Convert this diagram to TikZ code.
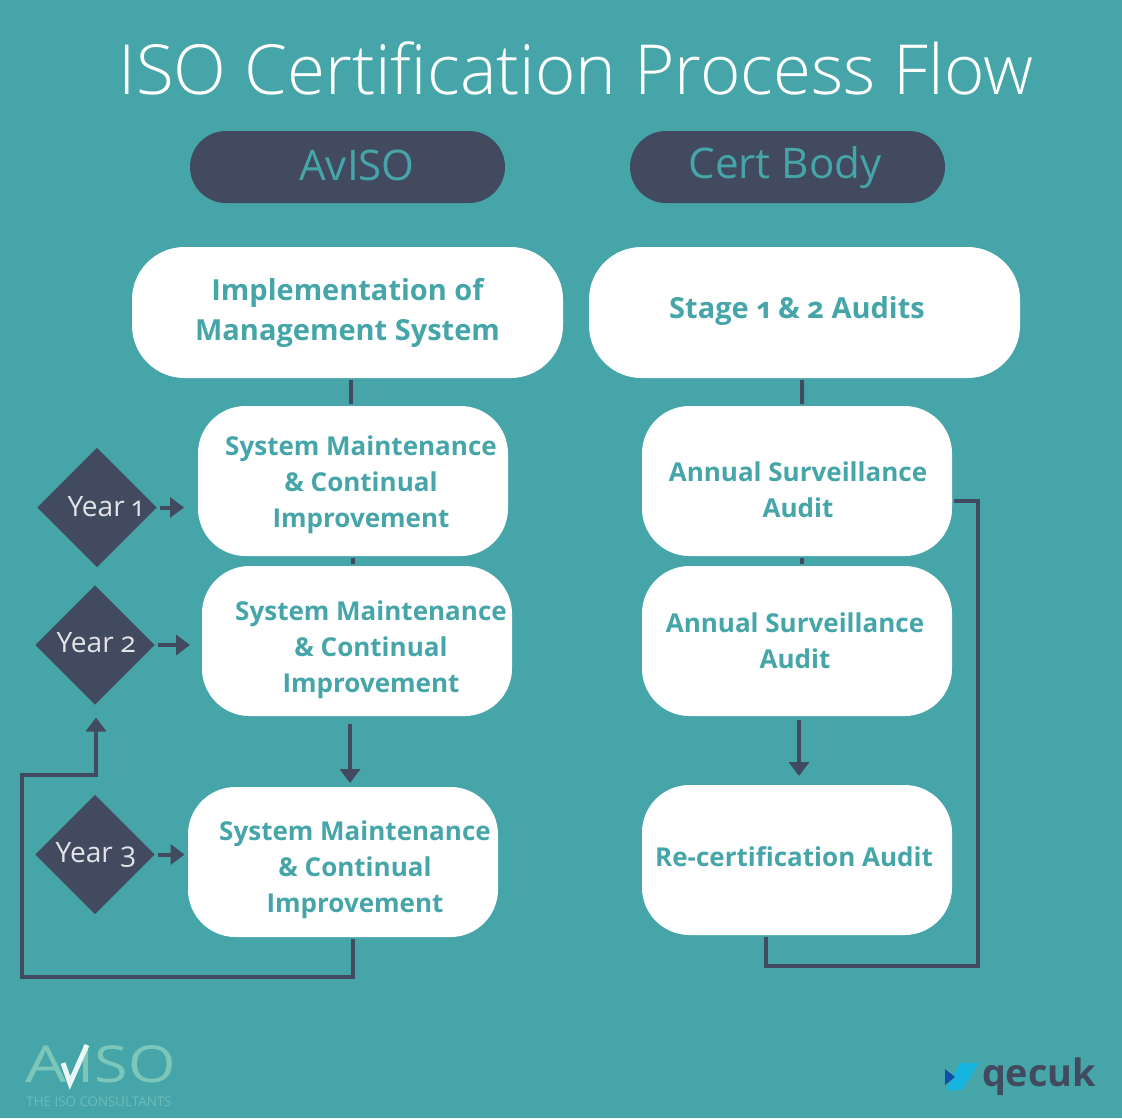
\documentclass[tikz,border=0pt]{standalone}
\usepackage{fontspec}
\setmainfont{Open Sans}[Numbers=OldStyle]
\newfontfamily\titlefont{Open Sans Light}
\usepackage{tikz}
\usetikzlibrary{arrows.meta,shapes.geometric}
\definecolor{tealbg}{HTML}{45A5A9}
\definecolor{slate}{HTML}{414A5E}
\definecolor{logomint}{HTML}{7CC7BA}
\definecolor{logopale}{HTML}{6CBDB9}
\definecolor{qecublue}{HTML}{16B5E0}
\definecolor{qecunavy}{HTML}{0F4FA8}
% tabular with its centre moved sideways by half of #2 and raised by #1, the box size stays as it is
\newcommand{\shifted}[3][0cm]{\makebox[0pt]{\hspace{#2}\raisebox{\dimexpr#1-0.25em}[0pt][0pt]{\begin{tabular}{@{}c@{}}#3\end{tabular}}}}
\newcommand{\maintext}{System Maintenance\\ \& Continual\\ Improvement}

\begin{document}
\begin{tikzpicture}[>={Triangle[length=0.28cm,width=0.4cm]},line width=0.08cm,node distance=3.2cm,
  whitebox/.style={fill=white,rounded corners=0.95cm,minimum width=6.2cm,minimum height=3cm,text=tealbg,inner sep=0pt,font=\fontsize{14.8}{20.5}\selectfont\bfseries},
  bigbox/.style={whitebox,rounded corners=1.05cm,minimum width=8.62cm,minimum height=2.62cm,font=\fontsize{16.5}{22.8}\selectfont\bfseries},
  pillbox/.style={fill=slate,rounded corners=0.72cm,minimum width=6.3cm,minimum height=1.44cm,text=tealbg,inner sep=0pt,font=\fontsize{24}{28}\selectfont},
  yearbox/.style={diamond,aspect=1,fill=slate,minimum size=2.42cm,inner sep=0pt,text=white!85!slate,font=\fontsize{16}{18}\selectfont},
  link/.style={slate},
  flow/.style={slate,->}]
  \useasboundingbox[fill=tealbg] (0,0) rectangle (22.44,-22.36);

  \node[text=white,font=\fontsize{39.3}{44}\titlefont] (title) at (11.52,-1.37) {ISO Certification Process Flow};

  \node[bigbox] (impl) at (6.95,-6.25) {\shifted{0cm}{Implementation of\\ Management System}};
  \node[bigbox] (stage) [right of=impl,node distance=9.14cm] {\shifted[0.04cm]{-0.3cm}{Stage 1 \& 2 Audits}};
  \node[pillbox] (aviso) [above of=impl,node distance=2.91cm] {\shifted[-0.08cm]{0.38cm}{AvISO}};
  \node[pillbox] (cert) [right of=aviso,node distance=8.8cm] {\shifted[-0.04cm]{-0.1cm}{Cert Body}};

  \node[whitebox] (sys1) [below of=impl,node distance=3.37cm,xshift=0.11cm] {\shifted[-0.06cm]{0.32cm}{\maintext}};
  \node[whitebox] (sys2) [below of=sys1,xshift=0.08cm] {\shifted[-0.16cm]{0.56cm}{\maintext}};
  \node[whitebox] (sys3) [below of=sys2,node distance=4.42cm,xshift=-0.28cm] {\shifted[-0.14cm]{0.48cm}{\maintext}};
  \node[whitebox] (ann1) [below of=stage,node distance=3.37cm,xshift=-0.15cm] {\shifted[-0.22cm]{0.04cm}{Annual Surveillance\\ Audit}};
  \node[whitebox] (ann2) [below of=ann1] {\shifted[-0.04cm]{-0.08cm}{Annual Surveillance\\ Audit}};
  \node[whitebox] (recert) [below of=ann2,node distance=4.38cm] {\shifted[0.02cm]{-0.12cm}{Re-certification Audit}};

  \node[yearbox] (y1) [left of=sys1,node distance=5.12cm,yshift=-0.53cm] {\shifted[-0.06cm]{0.32cm}{Year 1}};
  \node[yearbox] (y2) [left of=sys2,node distance=5.24cm,yshift=-0.08cm] {\shifted[-0.04cm]{0.04cm}{Year 2}};
  \node[yearbox] (y3) [left of=sys3,node distance=4.96cm,yshift=0.15cm] {\shifted[-0.04cm]{0.04cm}{Year 3}};

  % corners of the two return lines
  \coordinate (loopa) at (0.44,-19.54);
  \coordinate (loopb) at (19.56,-19.32);
  \coordinate (loopc) at (1.92,-15.5);

  \path[link]
    ([xshift=0.07cm]impl.south) edge ([xshift=-0.04cm]sys1.north)
    (sys1.south) edge ([xshift=-0.08cm]sys2.north)
    ([xshift=-0.05cm]stage.south) edge ([xshift=0.1cm]ann1.north)
    ([xshift=0.1cm]ann1.south) edge ([xshift=0.1cm]ann2.north);
  \path[flow]
    (y1.east) edge[shorten >=0.24cm] (y1.east -| sys1.west)
    (y2.east) edge[shorten >=0.2cm] (y2.east -| sys2.west)
    (y3.east) edge[shorten >=0.03cm] (y3.east -| sys3.west)
    ([xshift=-0.14cm]sys2.south) edge[shorten <=0.12cm,shorten >=0.04cm] ([xshift=0.14cm]sys3.north)
    ([xshift=0.04cm]ann2.south) edge[shorten <=0.04cm,shorten >=0.14cm] ([xshift=0.04cm]recert.north);

  \draw[flow,shorten >=0.2cm] ([xshift=0.2cm]sys3.south) |- (loopa) |- (loopc) -- (loopc |- y2.south);
  \draw[link] ([xshift=-0.62cm]recert.south) |- (loopb) |- ([yshift=-0.4cm]ann1.east);

  % logos
  \node[text=logomint,font=\fontsize{29}{32}\selectfont] (logoa) at (0.92,-21.28) {\scalebox{1.28}[1]{A}};
  \node[text=logomint,font=\fontsize{29}{32}\selectfont] (logoi) at (2.54,-21.28) {\scalebox{1.2}[1]{ISO}};
  \draw[white!85!logomint,line width=0.1cm] (1.26,-21.26) -- (1.4,-21.66) -- (1.74,-20.9);
  \node[text=logopale,font=\fontsize{7.6}{9}\selectfont] (logot) at (1.98,-22.04) {THE ISO CONSULTANTS};

  \fill[qecublue] (19.2,-21.26) -- (19.58,-21.26) -- (19.24,-21.8) -- (18.92,-21.8) -- cycle;
  \fill[qecunavy] (18.9,-21.38) -- (19.1,-21.54) -- (18.9,-21.7) -- cycle;
  \node[text=slate,font=\fontsize{21.5}{26}\selectfont\bfseries] (logoq) at (20.78,-21.53) {qecuk};
\end{tikzpicture}
\end{document}
